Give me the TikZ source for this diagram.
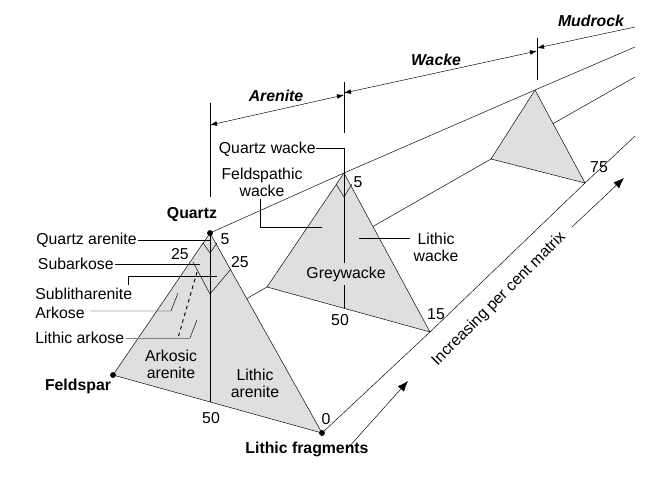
\documentclass[tikz,border=0pt]{standalone}
\usepackage{fontspec}
\setmainfont{Liberation Sans}
\usetikzlibrary{arrows.meta}
\begin{document}
\begin{tikzpicture}[x=0.03cm,y=-0.03cm,
    lbl/.style={font=\fontsize{13.5}{14.5}\selectfont, align=center, inner sep=1pt},
    apexlbl/.style={font=\fontsize{13.5}{14.5}\selectfont\bfseries, inner sep=1pt},
    dimlbl/.style={font=\fontsize{13.5}{14.5}\selectfont\bfseries\itshape, inner sep=1pt},
    face/.style={fill=gray!25, draw=black, line join=round},
    dim/.style={{Latex[length=6pt,width=4pt]}-{Latex[length=6pt,width=4pt]}},
    dot/.style={circle, fill=black, inner sep=0pt, minimum size=5pt}]
    \useasboundingbox (0,0) rectangle (669,491);
    % Corners
    \coordinate (Q1) at (210,233); \coordinate (F1) at (113,375); \coordinate (L1) at (322,433);
    \coordinate (Q2) at (344,173); \coordinate (F2) at (267,287); \coordinate (L2) at (430,332);
    \coordinate (Q3) at (535,90);  \coordinate (F3) at (491,159); \coordinate (L3) at (585,183);
    \coordinate (Qe) at (635,47);  \coordinate (Fe) at (635,77);  \coordinate (Le) at (635,136);
    
    % Prism edges
    \draw (Q1) -- (Q2) -- (Q3) -- (Qe);
    \draw (F1) -- (F2) -- (F3) -- (Fe);
    \draw (L1) -- (L2) -- (L3) -- (Le);
    
    % Triangles
    \draw[face] (Q3) -- (F3) -- (L3) -- cycle;
    \draw[face] (Q2) -- (F2) -- (L2) -- cycle;
    \draw[face] (Q1) -- (F1) -- (L1) -- cycle;
    
    % Arenite triangle
    \draw (Q1) -- (210,402);
    \draw (203,243) -- (210,253) -- (217,243);
    \draw (193,262) -- (210,294) -- (231,269);
    \draw[dashed, thick] (197,272) -- (178,338);
    \node[dot] (quartz) at (Q1) {};
    \node[dot] (feldspar) at (F1) {};
    \node[dot] (lithic) at (L1) {};
    \node[apexlbl] (tq) at (192,215) {Quartz};
    \node[apexlbl] (tf) at (78,386) {Feldspar};
    \node[apexlbl] (tl) at (307,449) {Lithic fragments};
    \node[lbl] at (225,239) {5};
    \node[lbl] at (180,254) {25};
    \node[lbl] at (240,262) {25};
    \node[lbl] at (211,418) {50};
    \node[lbl] at (326,419) {0};
    \node[lbl] at (171,364) {Arkosic\\arenite};
    \node[lbl] at (255,383) {Lithic\\arenite};
    
    % Arenite leaders
    \node[lbl, anchor=east] (qa) at (138,240) {Quartz arenite};
    \draw (qa.east) -- (210,240);
    \node[lbl, anchor=east] (sa) at (115,264) {Subarkose};
    \draw (sa.east) -- (200,264);
    \node[lbl, anchor=west] (sl) at (34,294) {Sublitharenite};
    \draw (128,285) -- (128,276) -- (217,276);
    \node[lbl, anchor=west] (ak) at (34,313) {Arkose};
    \draw (90,311) -- (171,311) -- (178,293);
    \node[lbl, anchor=west] (la) at (34,338) {Lithic arkose};
    \draw[gray] (la.east) -- (190,338);
    \draw (190,338) -- (197,320);
    
    % Wacke triangle
    \draw (316,148) -- (344,148) -- (344,263);
    \draw (344,285) -- (344,308);
    \draw (336,184) -- (344,197) -- (352,184);
    \node[lbl, anchor=east] (qw) at (317,149) {Quartz wacke};
    \node[lbl] (fw) at (262,182) {Feldspathic\\wacke};
    \draw (260,199) -- (260,227) -- (322,227);
    \node[lbl] (lw) at (436,247) {Lithic\\wacke};
    \draw (359,238) -- (410,238);
    \node[lbl] at (346,274) {Greywacke};
    \node[lbl] at (358,182) {5};
    \node[lbl] at (340,320) {50};
    \node[lbl] at (436,314) {15};
    \node[lbl] at (599,167) {75};
    
    % Class divisions
    \draw (210,103) -- (210,197);
    \draw (344,82) -- (344,133);
    \draw (537,38) -- (537,80);
    \draw[dim] (210,125) -- (344,95);
    \draw[dim] (344,93) -- (537,51);
    \draw[{Latex[length=6pt,width=4pt]}-] (537,48) -- (635,27);
    \node[dimlbl] at (276,96) {Arenite};
    \node[dimlbl] at (436,60) {Wacke};
    \node[dimlbl] at (591,21) {Mudrock};
    
    % Matrix axis
    \draw[-{Latex[length=9pt,width=7pt]}] (348,448) -- (408,381);
    \draw[-{Latex[length=9pt,width=7pt]}] (572,227) -- (624,178);
    \node[lbl, rotate=45] at (499,299) {Increasing per cent matrix};
\end{tikzpicture}
\end{document}
